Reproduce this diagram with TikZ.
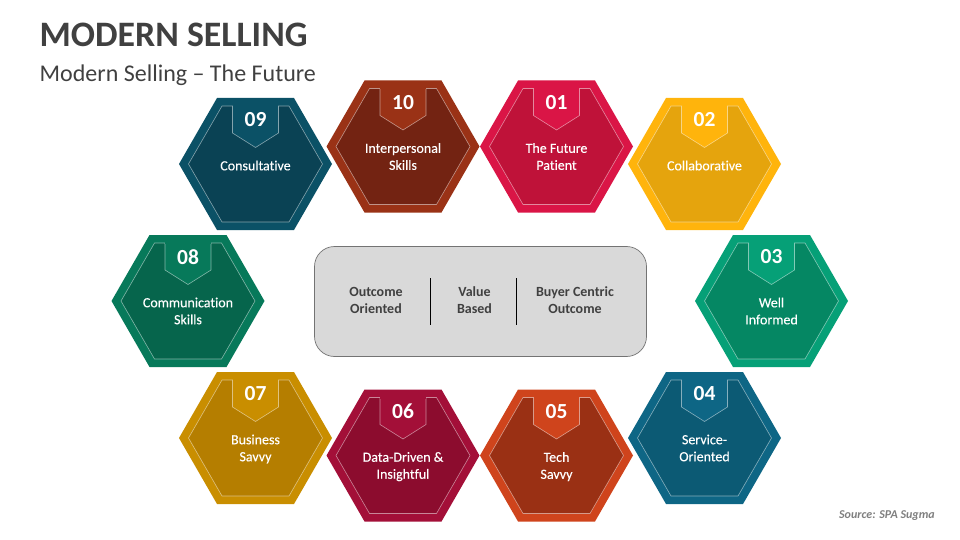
\documentclass[tikz,border=0pt]{standalone}
\usepackage{fontspec}
\setmainfont[Ligatures=NoCommon]{Carlito}
\newfontfamily\labfont[Ligatures=NoCommon,FakeBold=0.25]{Carlito}
\definecolor{txt}{HTML}{404040}
\definecolor{srcgray}{HTML}{7F7F7F}
\definecolor{color09o}{HTML}{0B5166}\definecolor{color09i}{HTML}{0A4254}
\definecolor{color10o}{HTML}{9A3216}\definecolor{color10i}{HTML}{732312}
\definecolor{color01o}{HTML}{DA1546}\definecolor{color01i}{HTML}{BF1239}
\definecolor{color02o}{HTML}{FFB40C}\definecolor{color02i}{HTML}{E5A40D}
\definecolor{color03o}{HTML}{06A077}\definecolor{color03i}{HTML}{058763}
\definecolor{color04o}{HTML}{0E6685}\definecolor{color04i}{HTML}{0C5A74}
\definecolor{color05o}{HTML}{CF441C}\definecolor{color05i}{HTML}{9A3014}
\definecolor{color06o}{HTML}{A30F38}\definecolor{color06i}{HTML}{8C0C2E}
\definecolor{color07o}{HTML}{C98E00}\definecolor{color07i}{HTML}{B57E00}
\definecolor{color08o}{HTML}{07795A}\definecolor{color08i}{HTML}{06654C}
\newcommand{\hexa}[7]{% name,cx,cy,outer,inner,num,label
\begin{scope}[shift={(#2,#3)}]
\fill[#4] (-76.5,0)--(-38.5,-66)--(38.5,-66)--(76.5,0)--(38.5,66)--(-38.5,66)--cycle;
\fill[#5] (-67,0)--(-33.5,-58)--(33.5,-58)--(67,0)--(33.5,58)--(-33.5,58)--cycle;
\fill[#4] (-23,-58)--(-23,-31)--(0,-16.5)--(23,-31)--(23,-58)--cycle;
\draw[hexline] (-23,-58)--(-33.5,-58)--(-67,0)--(-33.5,58)--(33.5,58)--(67,0)--(33.5,-58)--(23,-58)--(23,-31)--(0,-16.5)--(-23,-31)--cycle;
\fill[#4] (-22.6,-59)rectangle(22.6,-57);
\node[numtext] (#1n) at (0,-44) {#6};
\node[labeltext,anchor=north] (#1l) at (0,-3.6) {#7};
\end{scope}}
\tikzset{
 hexline/.style={draw=white,draw opacity=.5,line width=.6pt},
 numtext/.style={text=white,font=\fontsize{21.5}{21.5}\selectfont\bfseries,inner sep=0pt},
 labeltext/.style={text=white,align=center,font=\labfont\fontsize{14}{17}\selectfont,inner sep=0pt},
 midtext/.style={text=txt,align=center,font=\fontsize{14}{17}\selectfont\bfseries,inner sep=0pt},
}
\begin{document}
\begin{tikzpicture}[x=1pt,y=-1pt]
\useasboundingbox (0,0) rectangle (960,540);
\node[anchor=west,text=txt,font=\fontsize{35.8}{36}\selectfont\bfseries,inner sep=0pt] (title) at (39.5,35) {MODERN SELLING};
\node[anchor=west,text=txt,font=\fontsize{24}{24}\selectfont,inner sep=0pt] (sub) at (39.5,75) {Modern Selling – The Future};
\node[anchor=east,text=srcgray,font=\fontsize{12}{14}\selectfont\bfseries\itshape,inner sep=0pt] (src) at (935,516) {Source: SPA Sugma};
\hexa{h9}{255.5}{164}{color09o}{color09i}{09}{Consultative}
\hexa{h10}{403}{146.5}{color10o}{color10i}{10}{Interpersonal\\Skills}
\hexa{h1}{556.5}{146.5}{color01o}{color01i}{01}{The Future\\Patient}
\hexa{h2}{704.5}{164}{color02o}{color02i}{02}{Collaborative}
\hexa{h3}{771.5}{301}{color03o}{color03i}{03}{Well\\Informed}
\hexa{h4}{704.5}{438}{color04o}{color04i}{04}{Service-\\Oriented}
\hexa{h5}{556.5}{455.5}{color05o}{color05i}{05}{Tech\\Savvy}
\hexa{h6}{403}{455.5}{color06o}{color06i}{06}{Data-Driven \&\\Insightful}
\hexa{h7}{255.5}{438}{color07o}{color07i}{07}{Business\\Savvy}
\hexa{h8}{188}{301}{color08o}{color08i}{08}{Communication\\Skills}
\draw[draw=gray!90!black,fill=black!15,line width=.7pt,rounded corners=20pt] (314.5,246.5) rectangle (646.5,356.5);
\node[midtext] (m1) at (376,300) {Outcome\\Oriented};
\node[midtext] (m2) at (474.5,300) {Value\\Based};
\node[midtext] (m3) at (575,300) {Buyer Centric\\Outcome};
\coordinate (s1a) at (430.5,278); \coordinate (s1b) at (430.5,325);
\coordinate (s2a) at (516.5,278); \coordinate (s2b) at (516.5,325);
\draw[line width=.9pt] (s1a)--(s1b);
\draw[line width=.9pt] (s2a)--(s2b);
\end{tikzpicture}
\end{document}
